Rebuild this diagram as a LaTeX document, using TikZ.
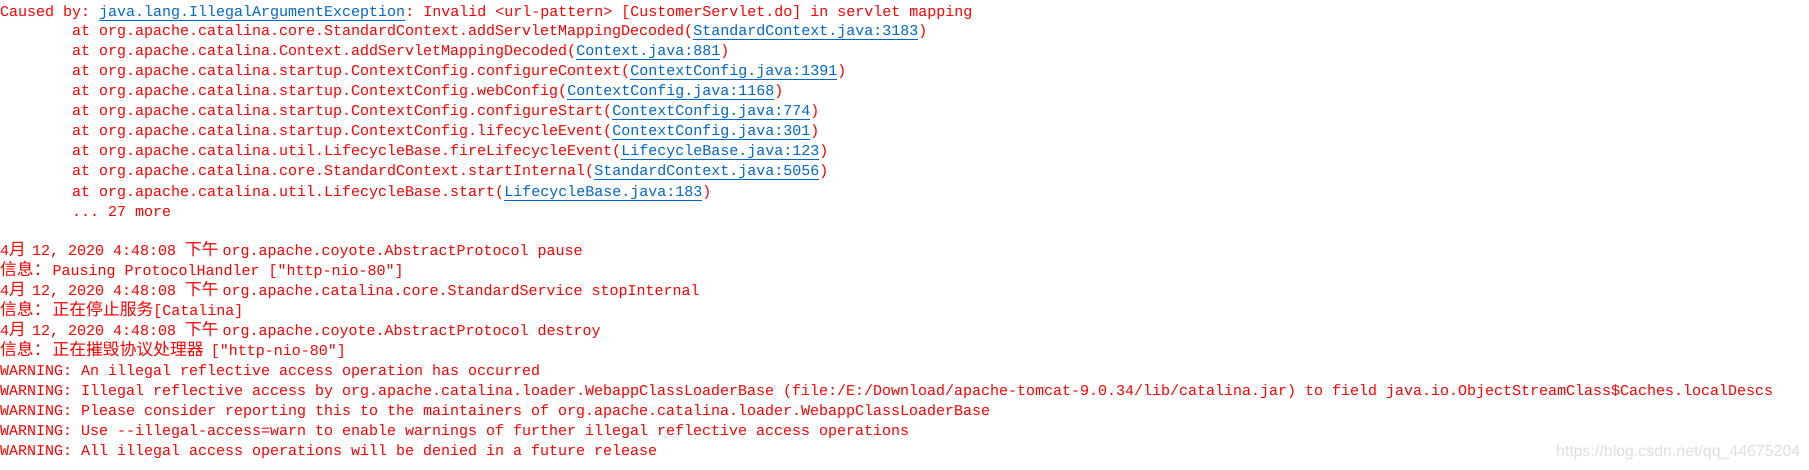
\documentclass[tikz,border=0pt]{standalone}
\usepackage{fontspec}
\usepackage{xcolor}
\newfontfamily\logfont{Liberation Mono}
\newfontfamily\cjkfont{Noto Sans CJK SC}
\newfontfamily\markfont{Liberation Sans}
\definecolor{linkblue}{HTML}{0066CC}
\newcommand{\srclink}[1]{\textcolor{linkblue}{\underline{#1}}}
\newcommand{\cjk}[1]{{\cjkfont\fontsize{16.8}{18}\selectfont #1}}
\begin{document}
\begin{tikzpicture}[
	x=1pt, y=1pt,
	logline/.style={anchor=base west, inner sep=0pt, text=red, font=\logfont\fontsize{15}{18}\selectfont\frenchspacing},
	watermark/.style={anchor=base west, inner sep=0pt, text=black!13, font=\markfont\fontsize{15.9}{18}\selectfont}
	]
	\useasboundingbox (0,0) rectangle (1809,-469);

	% La trace de la pile
	\node[logline] (cause) at (0,-16) {Caused by: \srclink{java.lang.IllegalArgumentException}: Invalid <url-pattern> [CustomerServlet.do] in servlet mapping};
	\node[logline] (at1) at (72,-35) {at org.apache.catalina.core.StandardContext.addServletMappingDecoded(\srclink{StandardContext.java:3183})};
	\node[logline] (at2) at (72,-55) {at org.apache.catalina.Context.addServletMappingDecoded(\srclink{Context.java:881})};
	\node[logline] (at3) at (72,-75) {at org.apache.catalina.startup.ContextConfig.configureContext(\srclink{ContextConfig.java:1391})};
	\node[logline] (at4) at (72,-95) {at org.apache.catalina.startup.ContextConfig.webConfig(\srclink{ContextConfig.java:1168})};
	\node[logline] (at5) at (72,-115) {at org.apache.catalina.startup.ContextConfig.configureStart(\srclink{ContextConfig.java:774})};
	\node[logline] (at6) at (72,-135) {at org.apache.catalina.startup.ContextConfig.lifecycleEvent(\srclink{ContextConfig.java:301})};
	\node[logline] (at7) at (72,-155) {at org.apache.catalina.util.LifecycleBase.fireLifecycleEvent(\srclink{LifecycleBase.java:123})};
	\node[logline] (at8) at (72,-175) {at org.apache.catalina.core.StandardContext.startInternal(\srclink{StandardContext.java:5056})};
	\node[logline] (at9) at (72,-196) {at org.apache.catalina.util.LifecycleBase.start(\srclink{LifecycleBase.java:183})};
	\node[logline] (more) at (72,-216) {... 27 more};

	% Les messages du serveur
	\node[logline] (pausedate) at (0,-255) {4\cjk{月}\hspace{6pt}12, 2020 4:48:08 \cjk{下午}\hspace{4pt}org.apache.coyote.AbstractProtocol pause};
	\node[logline] (pauseinfo) at (0,-275) {\cjk{信息：}\hspace{2pt}Pausing ProtocolHandler ["http-nio-80"]};
	\node[logline] (stopdate) at (0,-295) {4\cjk{月}\hspace{6pt}12, 2020 4:48:08 \cjk{下午}\hspace{4pt}org.apache.catalina.core.StandardService stopInternal};
	\node[logline] (stopinfo) at (0,-315) {\cjk{信息：}\hspace{2pt}\cjk{正在停止服务}[Catalina]};
	\node[logline] (destroydate) at (0,-335) {4\cjk{月}\hspace{6pt}12, 2020 4:48:08 \cjk{下午}\hspace{4pt}org.apache.coyote.AbstractProtocol destroy};
	\node[logline] (destroyinfo) at (0,-355) {\cjk{信息：}\hspace{2pt}\cjk{正在摧毁协议处理器}\hspace{7pt}["http-nio-80"]};

	% Les avertissements
	\node[logline] (warn1) at (0,-375) {WARNING: An illegal reflective access operation has occurred};
	\node[logline] (warn2) at (0,-395) {WARNING: Illegal reflective access by org.apache.catalina.loader.WebappClassLoaderBase (file:/E:/Download/apache-tomcat-9.0.34/lib/catalina.jar) to field java.io.ObjectStreamClass\$Caches.localDescs};
	\node[logline] (warn3) at (0,-415) {WARNING: Please consider reporting this to the maintainers of org.apache.catalina.loader.WebappClassLoaderBase};
	\node[logline] (warn4) at (0,-435) {WARNING: Use --illegal-access=warn to enable warnings of further illegal reflective access operations};
	\node[logline] (warn5) at (0,-455) {WARNING: All illegal access operations will be denied in a future release};

	\node[watermark] (mark) at (1556,-456) {https://blog.csdn.net/qq\_44675204};
\end{tikzpicture}
\end{document}
